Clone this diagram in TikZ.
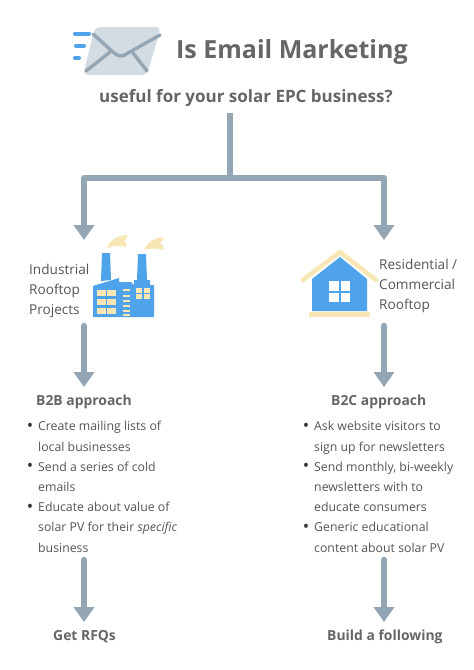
\documentclass[tikz,border=0pt]{standalone}
\usepackage{fontspec}
\setmainfont{Open Sans}
\usetikzlibrary{arrows.meta}
\definecolor{linegrey}{HTML}{94A5B3}
\definecolor{txt}{HTML}{555555}
\definecolor{head}{HTML}{666666}
\definecolor{sky}{HTML}{4FA3EA}
\definecolor{cream}{HTML}{F8E7B4}
\definecolor{envbody}{HTML}{D3DCE3}
\tikzset{
  x=1pt,y=-1pt,
  arr/.style={draw=linegrey,line width=6.5pt,line join=round,-{Triangle[width=20pt,length=15pt]}},
  trunk/.style={draw=linegrey,line width=6.5pt},
  body/.style={font=\fontsize{12.3}{20.2}\selectfont,text=txt,align=left,inner sep=0pt,anchor=base west},
  sub/.style={font=\fontsize{13.9}{16}\selectfont\bfseries,text=head,inner sep=0pt,anchor=base west},
  label/.style={font=\fontsize{13.6}{20}\selectfont,text=txt,align=left,inner sep=0pt,anchor=base west},
}
\newcommand{\bul}{\llap{\textcolor{black!80}{\raisebox{-0.5pt}{\fontsize{17}{17}\selectfont\textbullet}}\hspace{5pt}}}
\begin{document}
\begin{tikzpicture}
\useasboundingbox[fill=white] (0,0) rectangle (474,670);
% envelope
\fill[envbody,rounded corners=5pt] (95,27) -- (161,27) -- (147,75) -- (83,75) -- cycle;
\draw[linegrey,line width=3.4pt,line cap=round] (93,34) -- (113,52) .. controls (118,57) and (123,57) .. (128,53) -- (160,35);
\draw[linegrey,line width=3.4pt,line cap=round] (86,71) -- (110,52);
\draw[linegrey,line width=3.4pt,line cap=round] (133,53) -- (147,71);
\draw[sky,line width=4pt,line cap=round] (75,33.5) -- (89,33.5);
\draw[sky,line width=4pt,line cap=round] (76,45.7) -- (84,45.7);
\draw[sky,line width=4pt,line cap=round] (75,58) -- (79,58);
% titles
\node[font=\fontsize{25}{28}\selectfont\bfseries,text=head,inner sep=0pt,anchor=base west] (title) at (176,58) {Is Email Marketing};
\node[font=\fontsize{17}{20}\selectfont\bfseries,text=head,inner sep=0pt,anchor=base west] (question) at (99,102) {useful for your solar EPC business?};
% connector points
\coordinate (top) at (230,113);
\coordinate (junction) at (230,178);
\coordinate (leftcorner) at (84,178);
\coordinate (rightcorner) at (384,178);
\coordinate (lefthead) at (84,240);
\coordinate (righthead) at (384,240);
\draw[trunk] (top) -- (junction);
\draw[arr] (junction) -- (leftcorner) -- (lefthead);
\draw[arr] (junction) -- (rightcorner) -- (righthead);
% factory
\fill[cream] (107,248) .. controls (110,240) and (116,236) .. (128,235) .. controls (127,238) and (125,240) .. (124,241) .. controls (127,243) and (127,245) .. (126,247) .. controls (120,245) and (113,246) .. (107,248) -- cycle;
\fill[cream] (144,250) .. controls (147,243) and (153,238) .. (164,237) .. controls (163,240) and (161,242) .. (160,243) .. controls (164,245) and (164,248) .. (163,250) .. controls (157,248) and (150,248) .. (144,250) -- cycle;
\fill[sky] (102,253) -- (110,253) -- (111,280) -- (101,281) -- cycle;
\fill[sky] (138,254) -- (146,254) -- (147,280) -- (137,280) -- cycle;
\fill[sky] (93,286) -- (119,278) -- (119,282) -- (131,282) -- (134,285) -- (134,280) -- (150,280) -- (150,285) -- (154,285) -- (154,317) -- (93,317) -- cycle;
\foreach \yy in {290,295.5,300.5,305.5,310.5,314.5}
  \fill[cream] (122.5,\yy-1) rectangle (129.5,\yy+1);
\foreach \xx in {97,107}
  \foreach \yy in {290,299,308}
    \fill[cream] (\xx,\yy) rectangle (\xx+8.5,\yy+6);
\foreach \xx in {136,144}
  \foreach \yy in {288,294}
    \fill[cream] (\xx,\yy) rectangle (\xx+6,\yy+5);
% house
\fill[sky] (340,257) -- (367,279) -- (367,311) -- (312,311) -- (312,279) -- cycle;
\draw[cream,line width=4.5pt,line cap=round,line join=round] (303,280) -- (340,252) -- (376,280);
\fill[cream] (309,312) rectangle (370,317);
\fill[white] (329,281) rectangle (339,291);
\fill[white] (341,281) rectangle (350,291);
\fill[white] (329,293) rectangle (339,302);
\fill[white] (341,293) rectangle (350,302);
% labels
\node[label] (industrial) at (29,314) {Industrial\\Rooftop\\Projects};
\node[label] (residential) at (379,309) {Residential /\\Commercial\\Rooftop};
% approach headings
\node[sub] (b2b) at (36,405) {B2B approach};
\node[sub] (b2c) at (331,405) {B2C approach};
\coordinate (leftmid) at (84,326);
\coordinate (rightmid) at (384,326);
\coordinate (leftmidend) at (84,387);
\coordinate (rightmidend) at (384,387);
\draw[arr,line cap=round] (leftmid) -- (leftmidend);
\draw[arr,line cap=round] (rightmid) -- (rightmidend);
% lists
\node[body] (leftlist) at (38,552) {\bul Create mailing lists of\\local businesses\\\bul Send a series of cold\\emails\\\bul Educate about value of\\solar PV for their \textit{specific}\\business};
\node[body] (rightlist) at (314,552) {\bul Ask website visitors to\\sign up for newsletters\\\bul Send monthly, bi-weekly\\newsletters with to\\educate consumers\\\bul Generic educational\\content about solar PV};
% lower arrows
\coordinate (leftlow) at (84,560);
\coordinate (rightlow) at (384,560);
\coordinate (leftlowend) at (84,622);
\coordinate (rightlowend) at (384,622);
\draw[arr,line cap=round] (leftlow) -- (leftlowend);
\draw[arr,line cap=round] (rightlow) -- (rightlowend);
\node[sub] (rfq) at (53,640) {Get RFQs};
\node[sub] (follow) at (327,640) {Build a following};
\end{tikzpicture}
\end{document}
